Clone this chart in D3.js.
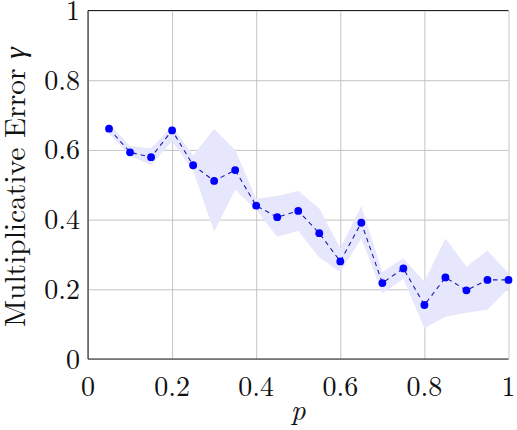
<!DOCTYPE html>
<html>
<head>
<meta charset="utf-8">
<script src="https://cdn.jsdelivr.net/npm/d3@7"></script>
<style>
  body { margin: 0; background: #fff; }
</style>
</head>
<body>
<div id="chart"></div>
<script>
// multiplicative error vs p, mean with spread band

var pValues = [0.05, 0.10, 0.15, 0.20, 0.25, 0.30, 0.35, 0.40, 0.45, 0.50,
               0.55, 0.60, 0.65, 0.70, 0.75, 0.80, 0.85, 0.90, 0.95, 1.00];
var meanError = [0.661, 0.593, 0.579, 0.656, 0.556, 0.511, 0.542, 0.440, 0.407, 0.425,
                 0.361, 0.280, 0.391, 0.218, 0.260, 0.155, 0.234, 0.197, 0.227, 0.227];
var bandUpper = [0.676, 0.611, 0.605, 0.667, 0.585, 0.660, 0.600, 0.460, 0.468, 0.482,
                 0.432, 0.318, 0.439, 0.250, 0.289, 0.222, 0.346, 0.265, 0.311, 0.246];
var bandLower = [0.646, 0.583, 0.557, 0.625, 0.540, 0.366, 0.486, 0.428, 0.351, 0.368,
                 0.291, 0.250, 0.346, 0.189, 0.230, 0.088, 0.121, 0.133, 0.141, 0.203];
var xTicks = [0, 0.2, 0.4, 0.6, 0.8, 1];
var yTicks = [0, 0.2, 0.4, 0.6, 0.8, 1];
var xTickLabels = ["0", "0.2", "0.4", "0.6", "0.8", "1"];
var yTickLabels = ["0", "0.2", "0.4", "0.6", "0.8", "1"];

var chart = {
    width: 517,
    height: 430,
    left: 88,
    right: 508.5,
    top: 10.5,
    bottom: 359,
    font: '"Latin Modern Roman", "Liberation Serif", serif',
    fontSize: 28
};

var rows = pValues.map(function(p, i){
    return {p: p, mean: meanError[i], hi: bandUpper[i], lo: bandLower[i]};
});

var svg = d3.select("#chart").append("svg")
    .attr("width", chart.width)
    .attr("height", chart.height);

var x = d3.scaleLinear().domain([0, 1]).range([chart.left, chart.right]);
var y = d3.scaleLinear().domain([0, 1]).range([chart.bottom, chart.top]);

// grid
svg.append("g")
    .attr("transform", "translate(0," + chart.bottom + ")")
    .call(d3.axisBottom(x).tickValues(xTicks).tickSize(-(chart.bottom - chart.top)).tickFormat(""))
    .call(function(g){ g.select(".domain").remove(); })
    .selectAll("line").attr("stroke", "#c4c4c4").attr("stroke-width", 1);

svg.append("g")
    .attr("transform", "translate(" + chart.left + ",0)")
    .call(d3.axisLeft(y).tickValues(yTicks).tickSize(-(chart.right - chart.left)).tickFormat(""))
    .call(function(g){ g.select(".domain").remove(); })
    .selectAll("line").attr("stroke", "#c4c4c4").attr("stroke-width", 1);

// band
var area = d3.area()
    .x(function(d){ return x(d.p); })
    .y0(function(d){ return y(d.lo); })
    .y1(function(d){ return y(d.hi); });

svg.append("path")
    .datum(rows)
    .attr("d", area)
    .attr("fill", "#e6e6fc");

// dashed mean line
var line = d3.line()
    .x(function(d){ return x(d.p); })
    .y(function(d){ return y(d.mean); });

svg.append("path")
    .datum(rows)
    .attr("d", line)
    .attr("fill", "none")
    .attr("stroke", "#1a1aa8")
    .attr("stroke-width", 1.1)
    .attr("stroke-dasharray", "4.5,4");

svg.selectAll("circle.pt")
    .data(rows)
    .enter().append("circle")
    .attr("class", "pt")
    .attr("cx", function(d){ return x(d.p); })
    .attr("cy", function(d){ return y(d.mean); })
    .attr("r", 3.9)
    .attr("fill", "#0000ff");

// axis frame: left, bottom, top
var frame = svg.append("g").attr("stroke", "#222").attr("stroke-width", 1.1);
frame.append("line").attr("x1", chart.left).attr("x2", chart.left).attr("y1", chart.top).attr("y2", chart.bottom);
frame.append("line").attr("x1", chart.left).attr("x2", chart.right).attr("y1", chart.bottom).attr("y2", chart.bottom);
frame.append("line").attr("x1", chart.left).attr("x2", chart.right).attr("y1", chart.top).attr("y2", chart.top);

// tick labels
svg.selectAll("text.xt")
    .data(xTicks)
    .enter().append("text")
    .attr("class", "xt")
    .attr("x", function(d){ return x(d); })
    .attr("y", chart.bottom + 37)
    .attr("text-anchor", "middle")
    .style("font-family", chart.font)
    .style("font-size", chart.fontSize + "px")
    .attr("fill", "#111")
    .text(function(d, i){ return xTickLabels[i]; });

svg.selectAll("text.yt")
    .data(yTicks)
    .enter().append("text")
    .attr("class", "yt")
    .attr("x", chart.left - 8)
    .attr("y", function(d){ return y(d) + 9.5; })
    .attr("text-anchor", "end")
    .style("font-family", chart.font)
    .style("font-size", chart.fontSize + "px")
    .attr("fill", "#111")
    .text(function(d, i){ return yTickLabels[i]; });

// axis titles
svg.append("text")
    .attr("x", (chart.left + chart.right) / 2)
    .attr("y", 420)
    .attr("text-anchor", "middle")
    .style("font-family", chart.font)
    .style("font-size", (chart.fontSize + 1) + "px")
    .style("font-style", "italic")
    .attr("fill", "#111")
    .text("p");

var ylab = svg.append("text")
    .attr("transform", "translate(25,187) rotate(-90)")
    .attr("text-anchor", "middle")
    .style("font-family", chart.font)
    .style("font-size", (chart.fontSize + 1) + "px")
    .attr("fill", "#111")
    .attr("textLength", 280)
    .attr("lengthAdjust", "spacingAndGlyphs");
ylab.append("tspan").text("Multiplicative Error ");
ylab.append("tspan").style("font-style", "italic").text("γ");
</script>
</body>
</html>
